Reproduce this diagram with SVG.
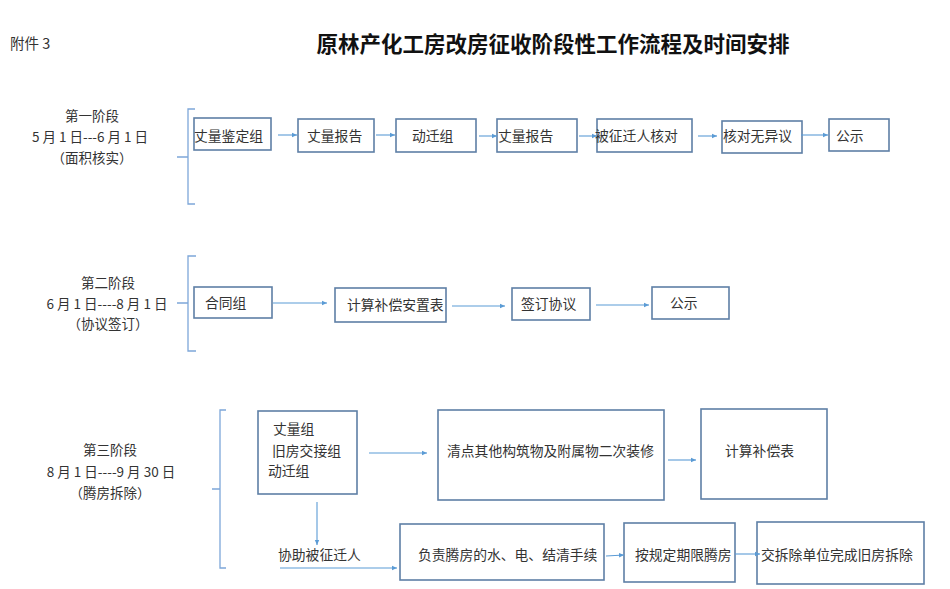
<svg xmlns="http://www.w3.org/2000/svg" width="950" height="589" viewBox="0 0 950 589">
<defs>
<marker id="ah" markerWidth="6" markerHeight="6" refX="5" refY="3" orient="auto" markerUnits="userSpaceOnUse">
<path d="M0,0.8 L5,3 L0,5.2 Z" fill="#5B9BD5"/>
</marker>
<style>
text{font-family:"Noto Sans CJK SC","Liberation Sans",sans-serif;fill:#333;font-size:13.8px}
.t{font-size:21.5px;font-weight:bold;fill:#111}
.s{text-anchor:middle;font-size:13.5px}
.box{fill:#fff;stroke:#5E7FA6;stroke-width:1.6}
.ar{stroke:#5B9BD5;stroke-width:1.1;fill:none;marker-end:url(#ah)}
.br{stroke:#7DA7D9;stroke-width:1.3;fill:none}
</style>
</defs>
<rect width="950" height="589" fill="#fff"/>
<text x="10" y="49" style="font-size:14.5px">附件 3</text>
<text class="t" x="553" y="52" text-anchor="middle">原林产化工房改房征收阶段性工作流程及时间安排</text>

<g id="stage1">
<text class="s" x="92" y="121">第一阶段</text>
<text class="s" x="90" y="142">5 月 1 日---6 月 1 日</text>
<text class="s" x="92" y="163">（面积核实）</text>
<path class="br" d="M195,109 H188 V204 H195 M177,157 H188"/>
</g>
<g id="stage2">
<text class="s" x="108" y="288">第二阶段</text>
<text class="s" x="107" y="309">6 月 1 日----8 月 1 日</text>
<text class="s" x="108" y="329">（协议签订）</text>
<path class="br" d="M196,256 H188 V351 H196 M177,303 H188"/>
</g>
<g id="stage3">
<text class="s" x="110" y="455">第三阶段</text>
<text class="s" x="111" y="477">8 月 1 日----9 月 30 日</text>
<text class="s" x="110" y="498">（腾房拆除）</text>
<path class="br" d="M226,410 H220 V568 H226 M212,489 H220"/>
</g>

<g id="n1"><rect class="box" x="194" y="118" width="77" height="32"/><text x="194" y="141">丈量鉴定组</text></g>
<g id="n2"><rect class="box" x="298" y="119" width="76" height="33"/><text x="307" y="141">丈量报告</text></g>
<g id="n3"><rect class="box" x="396" y="119" width="80" height="33"/><text x="412" y="141">动迁组</text></g>
<g id="n4"><rect class="box" x="497" y="119" width="80" height="33"/><text x="498" y="141">丈量报告</text></g>
<g id="n5"><rect class="box" x="597" y="119" width="95" height="33"/><text x="595" y="141">被征迁人核对</text></g>
<g id="n6"><rect class="box" x="722" y="121" width="80" height="32"/><text x="723" y="141">核对无异议</text></g>
<g id="n7"><rect class="box" x="829" y="119" width="60" height="32"/><text x="836" y="141">公示</text></g>

<g id="n8"><rect class="box" x="194" y="287" width="78" height="31"/><text x="205" y="308">合同组</text></g>
<g id="n9"><rect class="box" x="335" y="288" width="111" height="34"/><text x="347" y="310">计算补偿安置表</text></g>
<g id="n10"><rect class="box" x="512" y="288" width="78" height="32"/><text x="521" y="309">签订协议</text></g>
<g id="n11"><rect class="box" x="652" y="287" width="77" height="32"/><text x="670" y="308">公示</text></g>

<g id="n12"><rect class="box" x="258" y="411" width="99" height="83"/>
<text x="273" y="434">丈量组</text><text x="272" y="456">旧房交接组</text><text x="268" y="476">动迁组</text></g>
<g id="n13"><rect class="box" x="438" y="410" width="226" height="90"/><text x="447" y="456">清点其他构筑物及附属物二次装修</text></g>
<g id="n14"><rect class="box" x="701" y="409" width="126" height="90"/><text x="725" y="456">计算补偿表</text></g>
<g id="n15"><text x="278" y="560">协助被征迁人</text></g>
<g id="n16"><rect class="box" x="400" y="524" width="204" height="56"/><text x="418" y="560">负责腾房的水、电、结清手续</text></g>
<g id="n17"><rect class="box" x="624" y="523" width="111" height="59"/><text x="635" y="560">按规定期限腾房</text></g>
<g id="n18"><rect class="box" x="757" y="522" width="167" height="62"/><text x="761" y="560">交拆除单位完成旧房拆除</text></g>

<g id="connectors">
<line class="ar" x1="278" y1="135" x2="297" y2="135"/>
<line class="ar" x1="376" y1="135" x2="395" y2="135"/>
<line class="ar" x1="479" y1="136" x2="497" y2="136"/>
<line class="ar" x1="579" y1="136" x2="597" y2="136"/>
<line class="ar" x1="698" y1="136" x2="717" y2="136"/>
<line class="ar" x1="801" y1="135" x2="828" y2="135"/>
<line class="ar" x1="273" y1="303" x2="327" y2="303"/>
<line class="ar" x1="452" y1="306" x2="505" y2="306"/>
<line class="ar" x1="596" y1="305" x2="649" y2="305"/>
<line class="ar" x1="369" y1="453" x2="427" y2="453"/>
<line class="ar" x1="668" y1="460" x2="696" y2="460"/>
<line class="ar" x1="317" y1="502" x2="317" y2="545"/>
<line class="ar" x1="280" y1="568" x2="397" y2="568"/>
<line class="ar" x1="606" y1="556" x2="624" y2="555"/>
<line class="ar" x1="735" y1="554" x2="760" y2="554"/>
</g>
</svg>
